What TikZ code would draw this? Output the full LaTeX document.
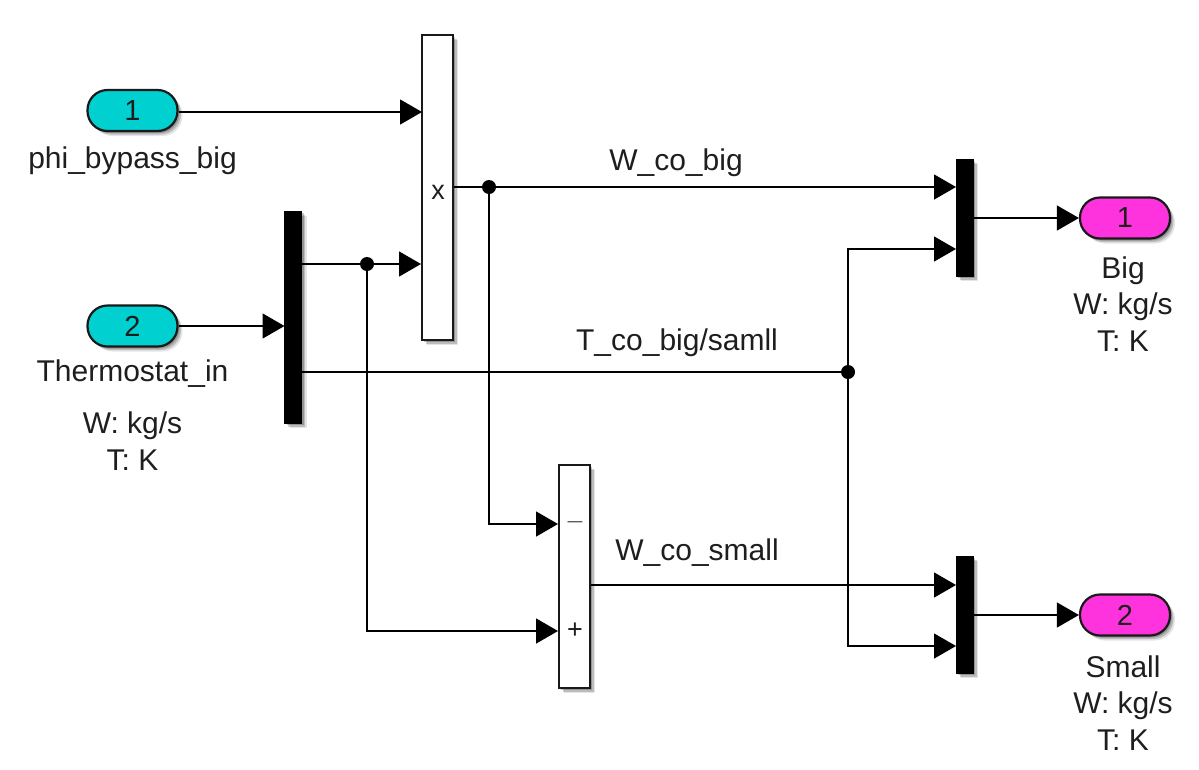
\documentclass[tikz,border=0pt]{standalone}
\usepackage{fontspec}
\setmainfont{Liberation Sans}
\usetikzlibrary{arrows.meta,shadows,calc}
\definecolor{incol}{RGB}{0,208,208}
\definecolor{outcol}{RGB}{255,51,221}
\definecolor{txt}{RGB}{30,30,30}
\tikzset{
  softshadow/.style={
    general shadow={shadow xshift=5pt,shadow yshift=-5pt,fill=black,opacity=.10},
    general shadow={shadow xshift=3.5pt,shadow yshift=-3.5pt,fill=black,opacity=.18},
    general shadow={shadow xshift=2pt,shadow yshift=-2pt,fill=black,opacity=.22}},
  port/.style={softshadow,draw=black!90,line width=2.2pt,rounded corners=20pt,minimum width=90pt,minimum height=41pt,inner sep=0pt,text=txt,font=\fontsize{29}{36}\selectfont},
  inport/.style={port,fill=incol},
  outport/.style={port,fill=outcol},
  opblock/.style={softshadow,draw=black!90,fill=white,line width=2pt,inner sep=0pt,text=txt,font=\fontsize{29}{36}\selectfont},
  muxbar/.style={softshadow,fill=black,draw=black,line width=0pt,inner sep=0pt},
  lab/.style={text=txt,font=\fontsize{30}{36.5}\selectfont,inner sep=0pt,align=center},
  glyph/.style={text=txt,font=\fontsize{27}{30}\selectfont,inner sep=0pt},
  wire/.style={draw=black,line width=1.4pt},
  sig/.style={wire,-{Triangle[length=22pt,width=25pt]}},
  dotnode/.style={circle,fill=black,inner sep=0pt,minimum size=14pt}
}
\begin{document}
\begin{tikzpicture}[x=1pt,y=-1pt]
\useasboundingbox (0,0) rectangle (1199,769);
% blocks
\node[inport] (in1) at (132.5,110.5) {1};
\node[inport] (in2) at (132.5,326) {2};
\node[outport] (out1) at (1125,218) {1};
\node[outport] (out2) at (1125,615) {2};
\node[opblock,minimum width=31pt,minimum height=305pt] (mult) at (437.5,187.5) {};
\node[opblock,minimum width=31pt,minimum height=223pt] (sum) at (574.5,576.5) {};
\node[muxbar,minimum width=17pt,minimum height=212pt] (muxin) at (293,317) {};
\node[muxbar,minimum width=17pt,minimum height=117pt] (muxbig) at (964.5,217.5) {};
\node[muxbar,minimum width=17pt,minimum height=117pt] (muxsmall) at (964.5,614.5) {};
% block glyphs
\node[glyph] (xsym) at (438,192) {x};
\node[glyph] (minus) at (575,522) {$-$};
\node[glyph] (plus) at (575,631) {+};
% labels
\node[lab] (l1) at (132.5,161) {phi\_bypass\_big};
\node[lab] (l2) at (132.5,374) {Thermostat\_in};
\node[lab] (l2b) at (132.5,441) {W: kg/s\\T: K};
\node[lab] (l3) at (1123,304) {Big\\W: kg/s\\T: K};
\node[lab] (l4) at (1123,703) {Small\\W: kg/s\\T: K};
\node[lab] (w1) at (676,163) {W\_co\_big};
\node[lab] (w2) at (677,343) {T\_co\_big/samll};
\node[lab] (w3) at (697,553) {W\_co\_small};
% routing points
\coordinate (j1) at (489,187);
\coordinate (j2) at (367,264);
\coordinate (j3) at (848,372);
\coordinate (a1) at (422,112);
\coordinate (a2) at (956,249);
\coordinate (a3) at (956,646);
% connectors
\draw[sig] (in1.east |- a1) -- (a1);
\draw[sig] (in2.east) -- (muxin.west |- in2.east);
\draw[sig] (muxin.east |- j2) -- (mult.west |- j2);
\draw[wire] (mult.east |- j1) -- (j1);
\draw[sig] (j1) -- (muxbig.west |- j1);
\draw[wire] (muxin.east |- j3) -- (j3);
\draw[sig] (j3) |- (a2);
\draw[sig] (j3) |- (a3);
\draw[sig] (j1) |- (sum.west |- 0,524);
\draw[sig] (j2) |- (sum.west |- 0,631);
\draw[sig] (sum.east |- 0,585) -- (muxsmall.west |- 0,585);
\draw[sig] (muxbig.east |- out1.west) -- (out1.west);
\draw[sig] (muxsmall.east |- out2.west) -- (out2.west);
\node[dotnode] (d1) at (j1) {};
\node[dotnode] (d2) at (j2) {};
\node[dotnode] (d3) at (j3) {};
\end{tikzpicture}
\end{document}
